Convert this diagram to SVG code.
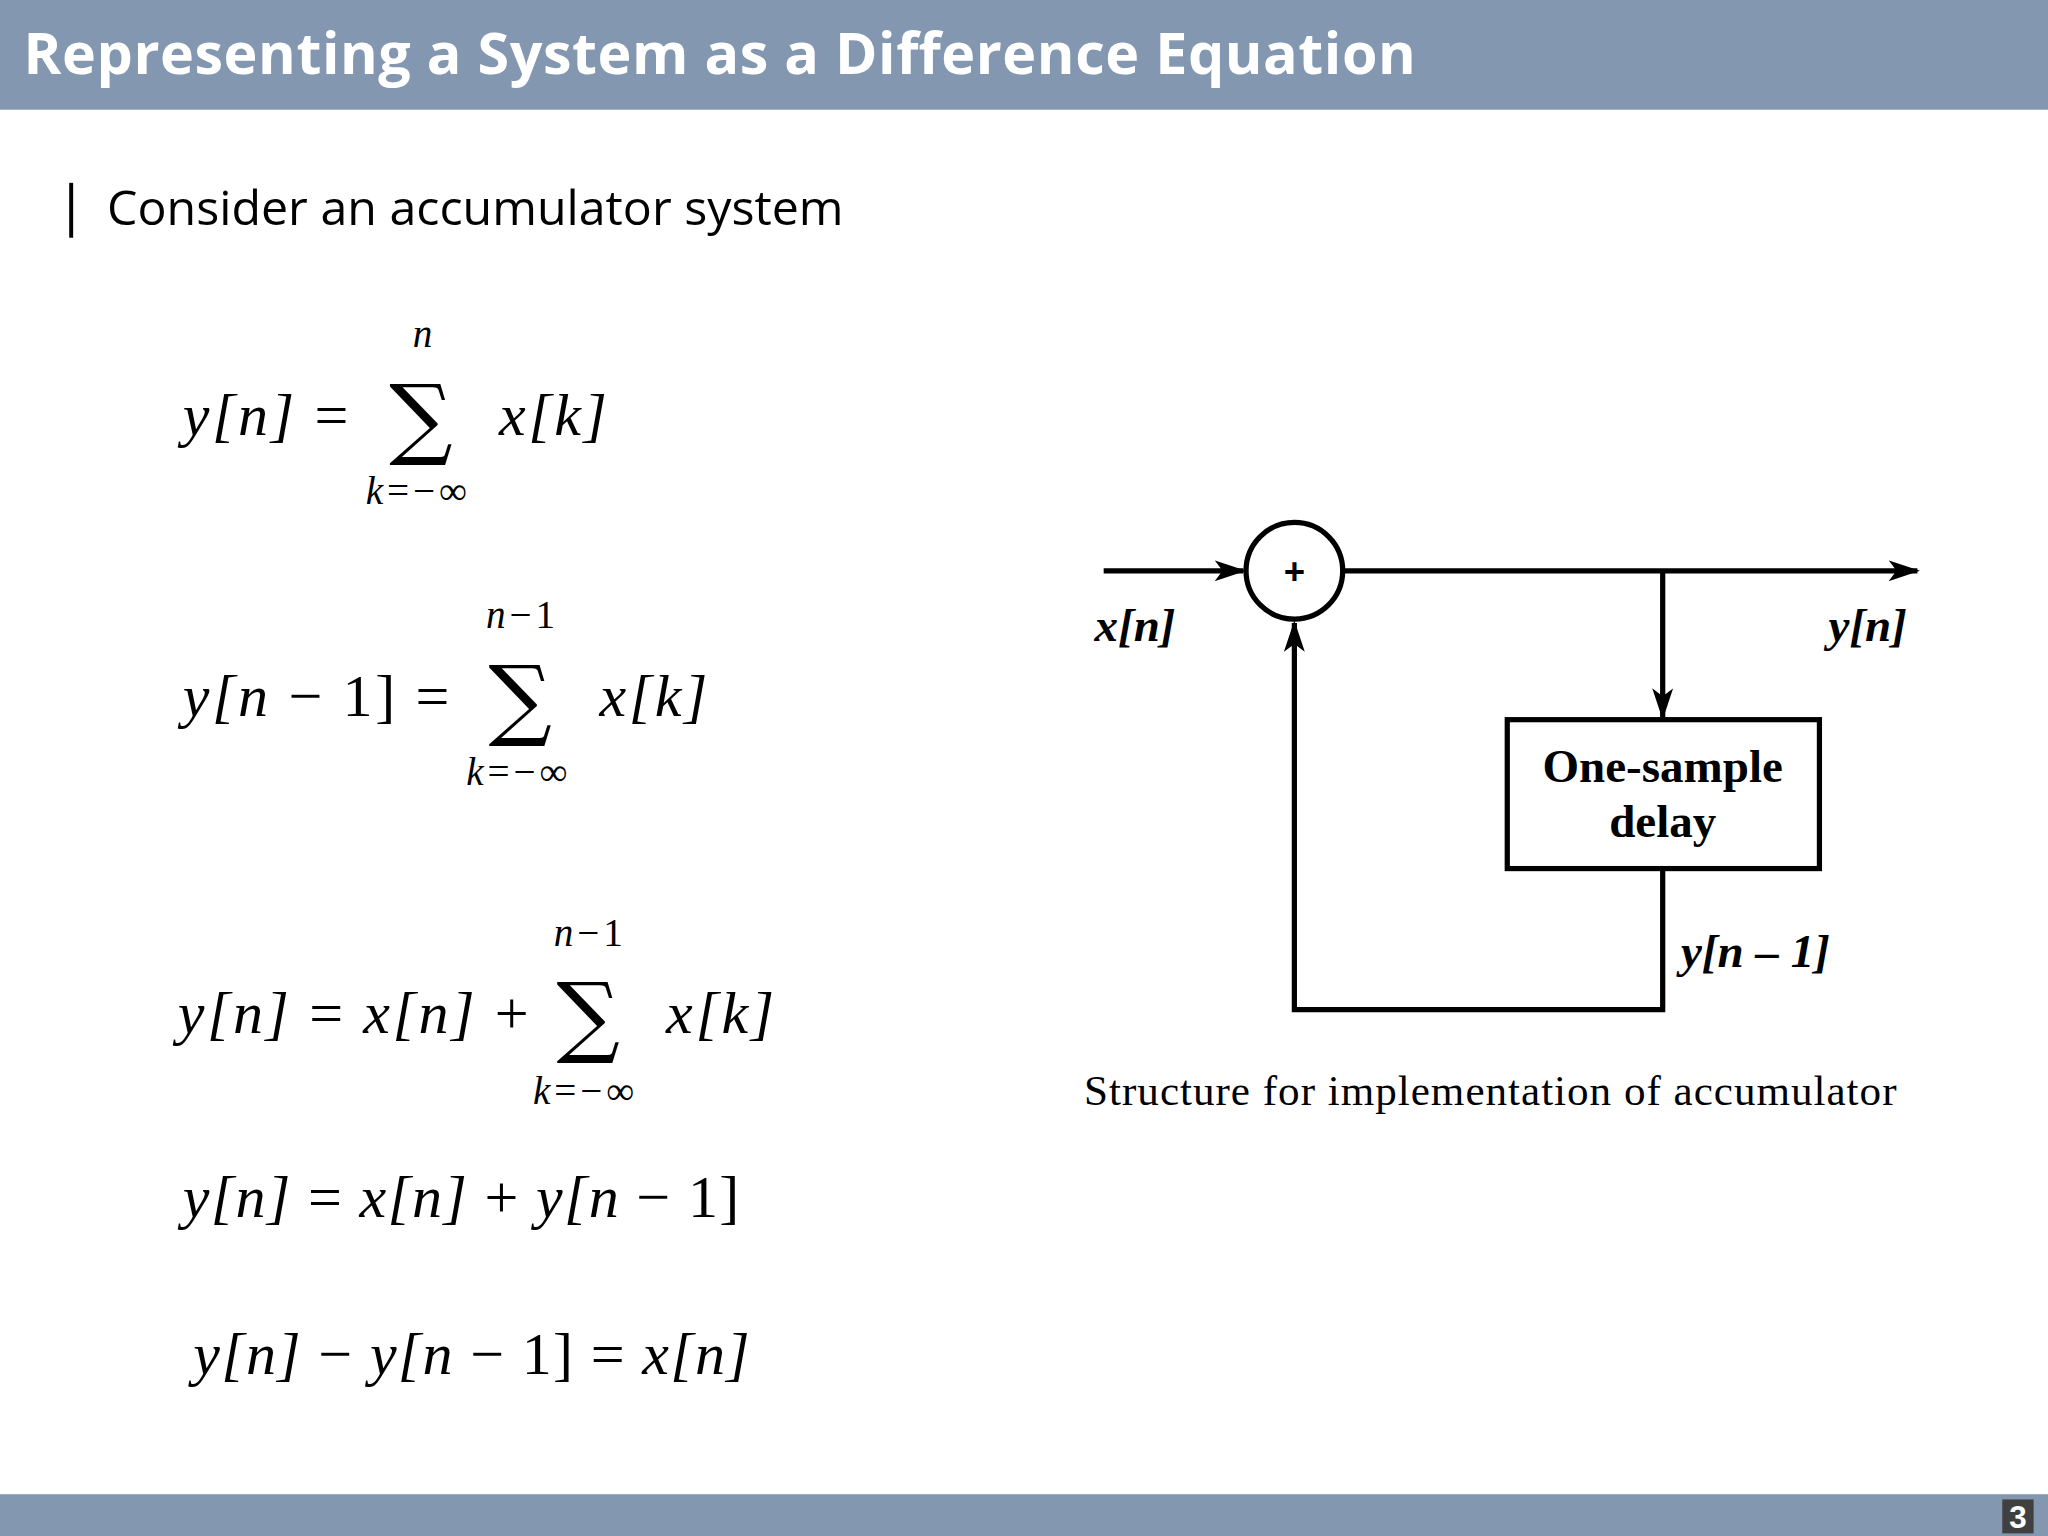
<svg xmlns="http://www.w3.org/2000/svg" width="2048" height="1536" viewBox="0 0 2048 1536">
<style>
.m{font-family:"Liberation Serif",serif;font-style:italic;font-size:46px;letter-spacing:2px;fill:#000}
.r{font-family:"Liberation Serif",serif;font-style:normal}
.s{font-size:30px;letter-spacing:3px}
.sig{font-family:"DejaVu Serif",serif;font-style:normal;font-size:68px;fill:#000}
.d{font-family:"Liberation Serif",serif;font-weight:bold;font-size:36px;fill:#000}
.ln{stroke:#000;stroke-width:4;fill:none}
</style>
<defs>
<marker id="b" markerWidth="24" markerHeight="16" refX="22" refY="8" orient="auto" markerUnits="userSpaceOnUse"><path d="M0,0L24,8L0,16L6,8z" fill="#000"/></marker></defs>
<g transform="scale(1.30612)">
<rect width="1568" height="84" fill="#8497b0"/>
<text x="18" y="57" font-family="Open Sans,sans-serif" font-weight="bold" font-size="44" fill="#fff" textLength="1066">Representing a System as a Difference Equation</text>
<rect y="1144" width="1568" height="32" fill="#8497b0"/>
<rect x="1533" y="1148" width="24" height="26" fill="#404040"/>
<text x="1545" y="1170" text-anchor="middle" font-family="Liberation Sans,sans-serif" font-weight="bold" font-size="24" fill="#fff">3</text>
<rect x="53" y="140" width="3" height="42" fill="#000"/>
<text x="82" y="172" font-family="Open Sans,sans-serif" font-size="37" fill="#000">Consider an accumulator system</text>
<g id="eq1"><text class="m" x="140" y="333">y[n] <tspan class="r">=</tspan></text><text class="sig" x="298" y="343">∑</text><text class="m s" x="316" y="266">n</text><text class="m s" x="280" y="386">k<tspan class="r">=−∞</tspan></text><text class="m" x="382" y="333">x[k]</text></g>
<g id="eq2"><text class="m" x="140" y="548">y[n <tspan class="r">− 1] =</tspan></text><text class="sig" x="374" y="558">∑</text><text class="m s" x="372" y="481">n<tspan class="r">−1</tspan></text><text class="m s" x="357" y="601">k<tspan class="r">=−∞</tspan></text><text class="m" x="459" y="548">x[k]</text></g>
<g id="eq3"><text class="m" x="136" y="791">y[n] <tspan class="r">=</tspan> x[n] <tspan class="r">+</tspan></text><text class="sig" x="426" y="801">∑</text><text class="m s" x="424" y="724">n<tspan class="r">−1</tspan></text><text class="m s" x="408" y="845">k<tspan class="r">=−∞</tspan></text><text class="m" x="510" y="791">x[k]</text></g>
<text class="m" x="140" y="932" textLength="428">y[n] <tspan class="r">=</tspan> x[n] <tspan class="r">+</tspan> y[n <tspan class="r">− 1]</tspan></text>
<text class="m" x="148" y="1052" textLength="428">y[n] <tspan class="r">−</tspan> y[n <tspan class="r">− 1] =</tspan> x[n]</text>
<g id="connectors">
<line class="ln" x1="845" y1="437" x2="952" y2="437" marker-end="url(#b)"/>
<line class="ln" x1="1029" y1="437" x2="1468" y2="437" marker-end="url(#b)"/>
<line class="ln" x1="1273" y1="437" x2="1273" y2="549" marker-end="url(#b)"/>
<polyline class="ln" points="1273,666 1273,773 991,773 991,477" marker-end="url(#b)"/>
</g>
<g id="sum"><circle cx="991" cy="437" r="37" fill="#fff" stroke="#000" stroke-width="4"/><text x="991" y="447" text-anchor="middle" font-family="Liberation Sans,sans-serif" font-weight="bold" font-size="28">+</text></g>
<g id="delay"><rect x="1154" y="551" width="239" height="114" fill="#fff" stroke="#000" stroke-width="4"/><text class="d" x="1273" y="599" text-anchor="middle" font-weight="normal">One-sample</text><text class="d" x="1273" y="641" text-anchor="middle" font-weight="normal">delay</text></g>
<text class="d" x="838" y="491" font-style="italic">x[n]</text>
<text class="d" x="1400" y="491" font-style="italic">y[n]</text>
<text class="d" x="1287" y="740" font-style="italic">y[n – 1]</text>
<text x="830" y="846" font-family="Liberation Serif,serif" font-size="33" fill="#000" textLength="622">Structure for implementation of accumulator</text>
</g>
</svg>
